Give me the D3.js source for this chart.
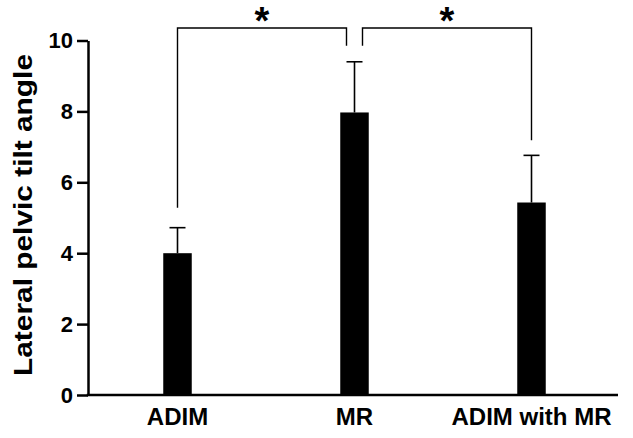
<!DOCTYPE html>
<html>
<head>
<meta charset="utf-8">
<script src="https://cdn.jsdelivr.net/npm/d3@7"></script>
<style>
  body { margin: 0; background: #fff; }
  text { font-family: "Liberation Sans", Arial, sans-serif; font-weight: bold; }
</style>
</head>
<body>
<script>
const width = 633;
const height = 438;

const groups = ["ADIM", "MR", "ADIM with MR"];
const means = [4.0, 7.97, 5.43];
const sds = [0.72, 1.43, 1.33];
const yTicks = [0, 2, 4, 6, 8, 10];
// significance brackets: pairs of group indices
const pairs = [[0, 1], [1, 2]];
const stars = ["*", "*"];

const svg = d3.select("body").append("svg")
    .attr("width", width)
    .attr("height", height);

const x = d3.scaleBand().domain(groups).range([89, 620]);
const y = d3.scaleLinear().domain([0, 10]).range([395, 40.5]);
const cx = d => x(d) + x.bandwidth() / 2;

// y axis
const yAxis = svg.append("g")
    .attr("transform", "translate(88,0)")
    .call(d3.axisLeft(y).tickValues(yTicks).tickSize(11).tickSizeOuter(0).tickPadding(4));
yAxis.select(".domain").attr("stroke", "#000").attr("stroke-width", 2.5);
yAxis.selectAll(".tick line").attr("stroke", "#000").attr("stroke-width", 2.5);
yAxis.selectAll(".tick text")
    .attr("font-size", 22)
    .attr("fill", "#000")
    .attr("font-family", "Liberation Sans, Arial, sans-serif")
    .attr("font-weight", "bold");

// x axis
const xAxis = svg.append("g")
    .attr("transform", `translate(0,${y(0)})`)
    .call(d3.axisBottom(x).tickSize(0).tickPadding(13));
xAxis.select(".domain").attr("stroke", "#000").attr("stroke-width", 2.5)
    .attr("d", "M86.75,0H618");
xAxis.selectAll(".tick text")
    .attr("font-size", 24)
    .attr("fill", "#000")
    .attr("font-family", "Liberation Sans, Arial, sans-serif")
    .attr("font-weight", "bold");

// y label
svg.append("text")
    .attr("transform", `translate(32,215) rotate(-90)`)
    .attr("text-anchor", "middle")
    .attr("font-size", 26)
    .attr("textLength", 322)
    .attr("lengthAdjust", "spacingAndGlyphs")
    .attr("fill", "#000")
    .text("Lateral pelvic tilt angle");

// bars
const barW = 28.5;
svg.selectAll(".bar")
    .data(groups)
    .enter().append("rect")
    .attr("x", d => cx(d) - barW / 2)
    .attr("y", (d, i) => y(means[i]))
    .attr("width", barW)
    .attr("height", (d, i) => y(0) - y(means[i]))
    .attr("fill", "#000");

// error bars (upper only)
const capW = 16;
groups.forEach((g, i) => {
  const top = y(means[i] + sds[i]);
  svg.append("line")
      .attr("x1", cx(g)).attr("x2", cx(g))
      .attr("y1", y(means[i])).attr("y2", top)
      .attr("stroke", "#000").attr("stroke-width", 1.6);
  svg.append("line")
      .attr("x1", cx(g) - capW / 2).attr("x2", cx(g) + capW / 2)
      .attr("y1", top).attr("y2", top)
      .attr("stroke", "#000").attr("stroke-width", 1.6);
});

// significance brackets
const brY = 28;
const gaps = [20, 16, 15];
pairs.forEach((p, k) => {
  const a = p[0], b = p[1];
  // keep bracket legs clear of the shared middle bar
  let xa = cx(groups[a]), xb = cx(groups[b]);
  if (k === 0) xb -= capW / 2;
  if (k === 1) xa += capW / 2;
  const ya = y(means[a] + sds[a]) - gaps[a];
  const yb = y(means[b] + sds[b]) - gaps[b];
  svg.append("path")
      .attr("d", `M${xa},${ya}V${brY}H${xb}V${yb}`)
      .attr("fill", "none")
      .attr("stroke", "#000")
      .attr("stroke-width", 1.4);
  svg.append("text")
      .attr("x", (xa + xb) / 2)
      .attr("y", 34)
      .attr("text-anchor", "middle")
      .attr("font-size", 38)
      .attr("fill", "#000")
      .text(stars[k]);
});
</script>
</body>
</html>
